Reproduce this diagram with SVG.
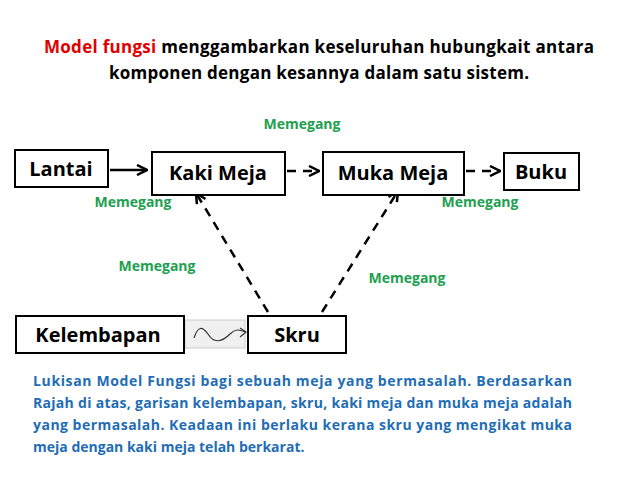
<svg xmlns="http://www.w3.org/2000/svg" width="638" height="478" viewBox="0 0 638 478">
<defs>
<style>
.t{font-family:"Open Sans","Liberation Sans",sans-serif;font-weight:bold}
.box{fill:#fff;stroke:#000;stroke-width:2}
.lbl{font-size:14px;fill:#21a050}
.n{font-size:20px;fill:#000}
.p{font-size:14px;fill:#1f6db5}
.c{stroke:#000;stroke-width:2.5;fill:none}
.d{stroke-dasharray:9,7}
</style>
<marker id="a" viewBox="0 0 10 10" refX="9" refY="5" markerWidth="5" markerHeight="5" orient="auto"><path d="M1,1 L9,5 L1,9" fill="none" stroke="#000" stroke-width="2"/></marker>
</defs>
<rect width="638" height="478" fill="#fff"/>
<text class="t" x="319" y="53" text-anchor="middle" font-size="17" textLength="550"><tspan fill="#e00000">Model fungsi</tspan><tspan fill="#000"> menggambarkan keseluruhan hubungkait antara</tspan></text>
<text class="t" x="319" y="79" text-anchor="middle" font-size="17" fill="#000" textLength="420">komponen dengan kesannya dalam satu sistem.</text>
<g id="conn">
<line class="c" x1="110" y1="170" x2="147" y2="170" marker-end="url(#a)"/>
<line class="c d" x1="287" y1="171" x2="319" y2="171" marker-end="url(#a)"/>
<line class="c d" x1="466" y1="171" x2="500" y2="171" marker-end="url(#a)"/>
<line class="c d" x1="268" y1="312" x2="196" y2="193" marker-end="url(#a)"/>
<line class="c d" x1="322" y1="312" x2="398" y2="191" marker-end="url(#a)"/>
<rect x="185" y="320" width="60" height="28" fill="#f0f0f0" stroke="#ccc"/>
<path d="M194,338 C198,326 202,326 208,334 C214,344 222,342 230,334 C236,328 240,330 246,332" fill="none" stroke="#333" stroke-width="1.2"/>
<path d="M240,328 L246,332 L240,337" fill="none" stroke="#333" stroke-width="1.2"/>
<text class="t lbl" x="302" y="129" text-anchor="middle">Memegang</text>
<text class="t lbl" x="133" y="207" text-anchor="middle">Memegang</text>
<text class="t lbl" x="480" y="207" text-anchor="middle">Memegang</text>
<text class="t lbl" x="157" y="271" text-anchor="middle">Memegang</text>
<text class="t lbl" x="407" y="283" text-anchor="middle">Memegang</text>
</g>
<g id="lantai"><rect class="box" x="15" y="150" width="93" height="37"/><text class="t n" x="61" y="176" text-anchor="middle">Lantai</text></g>
<g id="kaki"><rect class="box" x="152" y="152" width="133" height="43"/><text class="t n" x="218" y="180" text-anchor="middle">Kaki Meja</text></g>
<g id="muka"><rect class="box" x="323" y="152" width="141" height="43"/><text class="t n" x="393" y="180" text-anchor="middle">Muka Meja</text></g>
<g id="buku"><rect class="box" x="504" y="153" width="75" height="37"/><text class="t n" x="541" y="179" text-anchor="middle">Buku</text></g>
<g id="kelembapan"><rect class="box" x="16" y="316" width="168" height="37"/><text class="t n" x="98" y="342" text-anchor="middle" fill="#1f6db5">Kelembapan</text></g>
<g id="skru"><rect class="box" x="248" y="316" width="98" height="37"/><text class="t n" x="297" y="342" text-anchor="middle">Skru</text></g>
<g class="t p">
<text x="33" y="386" textLength="539">Lukisan Model Fungsi bagi sebuah meja yang bermasalah. Berdasarkan</text>
<text x="33" y="408" textLength="539">Rajah di atas, garisan kelembapan, skru, kaki meja dan muka meja adalah</text>
<text x="33" y="430" textLength="539">yang bermasalah. Keadaan ini berlaku kerana skru yang mengikat muka</text>
<text x="33" y="452">meja dengan kaki meja telah berkarat.</text>
</g>
</svg>
